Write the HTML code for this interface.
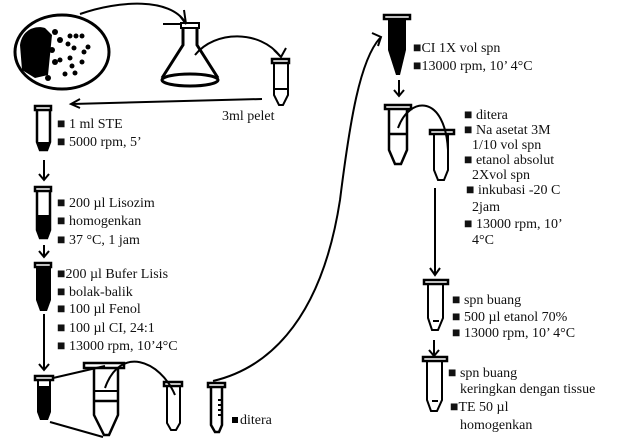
<!DOCTYPE html>
<html><head><style>
html,body{margin:0;padding:0;background:#fff;}
svg{display:block}
text{font-family:"Liberation Serif",serif;font-size:14px;fill:#111}
</style></head><body>
<svg width="640" height="439" viewBox="0 0 640 439" xmlns="http://www.w3.org/2000/svg">
<g fill="none" stroke="#000" stroke-width="2">
<ellipse cx="62" cy="52" rx="47" ry="37" stroke-width="3"/>
<path d="M80 14 C120 0 170 -2 185 22"/>
<path d="M180 16 L186 24 L184 10"/>
<path d="M183 28 L183 45 L162 78 M197 28 L197 45 L218 78" stroke-width="3"/>
<rect x="181" y="23" width="18" height="5" stroke-width="2"/>
<line x1="163" y1="24" x2="181" y2="24"/>
<ellipse cx="190" cy="80" rx="28" ry="6" stroke-width="3"/>
<path d="M195 55 C215 30 260 30 280 56"/>
<path d="M274 50 L281 57 L286 48"/>
<rect x="272" y="59" width="17" height="4" stroke-width="2.5"/>
<path d="M274 63 L274 95 L279 105 L283 105 L288 95 L288 63"/>
<line x1="274" y1="89" x2="288" y2="89"/>
<path d="M262 99 L72 104"/>
<path d="M80 99 L71 104 L80 108"/>
<rect x="35" y="106" width="16" height="4" stroke-width="2.5"/>
<path d="M37 110 L37 142 L40 150 L47 150 L50 142 L50 110" stroke-width="2.5"/>
<path d="M44 160 L44 180 M39 174 L44 180 L49 174"/>
<rect x="35" y="187" width="16" height="4" stroke-width="2.5"/>
<path d="M37 191 L37 230 L40 238 L47 238 L50 230 L50 191" stroke-width="2.5"/>
<path d="M44 245 L44 257 M39 251 L44 257 L49 251"/>
<rect x="35" y="263" width="16" height="4" stroke-width="2.5"/>
<path d="M44 314 L44 370 M39 364 L44 370 L49 364"/>
<rect x="35" y="376" width="18" height="4" stroke-width="2.5"/>
<path d="M53 378 L105 366 M50 422 L103 437"/>
<rect x="84" y="363" width="40" height="5" stroke-width="2.5"/>
<path d="M94 368 L94 415 L104 435 L109 435 L118 415 L118 368" stroke-width="2.5"/>
<line x1="94" y1="391" x2="118" y2="391"/>
<line x1="94" y1="401" x2="118" y2="401" stroke-width="2.5"/>
<path d="M105 388 C120 345 160 360 175 395"/>
<rect x="164" y="382" width="18" height="4" stroke-width="2.5"/>
<path d="M167 386 L167 423 L171 430 L176 430 L180 423 L180 386"/>
<path d="M213 381 C260 370 320 330 340 200 C350 120 360 60 380 38"/>
<path d="M372 33 L381 37 L378 46"/>
<rect x="208" y="383" width="17" height="4" stroke-width="2.5"/>
<path d="M211 387 L211 425 L215 432 L219 432 L222 425 L222 387" stroke-width="2.5"/>
<path d="M218 400 L222 400 M218 405 L222 405 M218 410 L222 410 M218 415 L222 415"/>
<rect x="384" y="15" width="26" height="4" stroke-width="2.5"/>
<path d="M399 80 L399 96 M394 90 L399 96 L404 90"/>
<rect x="385" y="105" width="26" height="4" stroke-width="2.5"/>
<path d="M389 109 L389 150 L395 164 L401 164 L407 150 L407 109" stroke-width="2.5"/>
<line x1="389" y1="134" x2="407" y2="134" stroke-width="2.5"/>
<path d="M398 128 C410 95 445 95 448 150"/>
<rect x="430" y="130" width="24" height="4" stroke-width="2.5"/>
<path d="M434 134 L434 170 L438 180 L444 180 L448 170 L448 134"/>
<path d="M435 188 L435 275 M430 268 L435 275 L440 268"/>
<rect x="424" y="280" width="24" height="4" stroke-width="2.5"/>
<path d="M428 284 L428 318 L432 330 L438 330 L443 318 L443 284"/>
<path d="M433 321 L439 321"/>
<path d="M434 340 L434 356 M429 350 L434 356 L439 350"/>
<rect x="423" y="357" width="24" height="4" stroke-width="2.5"/>
<path d="M427 361 L427 400 L431 411 L437 411 L442 400 L442 361"/>
<path d="M432 401 L438 401"/>
</g>
<g fill="#000">
<path d="M20 45 C22 30 35 25 45 28 L52 35 L50 55 L48 75 L35 78 L22 70 Z"/>
<circle cx="55" cy="32" r="3"/><circle cx="60" cy="40" r="3"/><circle cx="52" cy="50" r="3"/>
<circle cx="55" cy="62" r="3"/><circle cx="48" cy="78" r="3"/><circle cx="70" cy="36" r="2.5"/>
<circle cx="76" cy="36" r="2.5"/><circle cx="82" cy="36" r="2.5"/><circle cx="68" cy="44" r="2.5"/>
<circle cx="74" cy="48" r="2.5"/><circle cx="84" cy="52" r="2.5"/><circle cx="88" cy="47" r="2.5"/>
<circle cx="60" cy="60" r="2.5"/><circle cx="70" cy="58" r="2.5"/><circle cx="72" cy="66" r="2.5"/>
<circle cx="82" cy="62" r="2.5"/><circle cx="65" cy="74" r="2.5"/><circle cx="75" cy="73" r="2.5"/>
<path d="M37 142 L40 150 L47 150 L50 142 Z"/>
<path d="M37 215 L50 215 L50 230 L47 238 L40 238 L37 230 Z"/>
<path d="M36 267 L36 300 L40 311 L47 311 L51 300 L51 267 Z"/>
<path d="M37 386 L51 386 L51 412 L48 420 L40 420 L37 412 Z"/>
<rect x="37" y="380" width="2" height="8"/><rect x="49" y="380" width="2" height="8"/>
<path d="M388 19 L406 19 L406 50 L400 75 L396 75 L388 50 Z"/>
<rect x="232" y="417" width="6" height="6"/>
</g>
<text x="222" y="120">3ml pelet</text>
<text x="57" y="128">■ 1 ml STE</text>
<text x="57" y="146">■ 5000 rpm, 5’</text>
<text x="57" y="207">■ 200 µl Lisozim</text>
<text x="57" y="225">■ homogenkan</text>
<text x="57" y="244">■  37 °C, 1 jam</text>
<text x="57" y="278">■200 µl Bufer Lisis</text>
<text x="57" y="296">■ bolak-balik</text>
<text x="57" y="313">■    100 µl Fenol</text>
<text x="57" y="332">■  100 µl CI, 24:1</text>
<text x="57" y="350">■  13000 rpm, 10’4°C</text>
<text x="240" y="424">ditera</text>
<text x="413" y="52">■CI 1X vol spn</text>
<text x="413" y="70">■13000 rpm, 10’ 4°C</text>
<text x="464" y="119">■ ditera</text>
<text x="464" y="134">■ Na asetat 3M</text>
<text x="472" y="149">1/10 vol spn</text>
<text x="464" y="164">■ etanol absolut</text>
<text x="472" y="179">2Xvol spn</text>
<text x="466" y="194">■ inkubasi -20 C</text>
<text x="472" y="211">2jam</text>
<text x="464" y="228">■  13000 rpm, 10’</text>
<text x="472" y="244">4°C</text>
<text x="452" y="304">■  spn buang</text>
<text x="452" y="321">■  500 µl etanol 70%</text>
<text x="452" y="337">■  13000 rpm, 10’ 4°C</text>
<text x="448" y="377">■ spn buang</text>
<text x="460" y="393">keringkan dengan tissue</text>
<text x="450" y="411">■TE 50 µl</text>
<text x="460" y="429">homogenkan</text>
</svg>
</body></html>
